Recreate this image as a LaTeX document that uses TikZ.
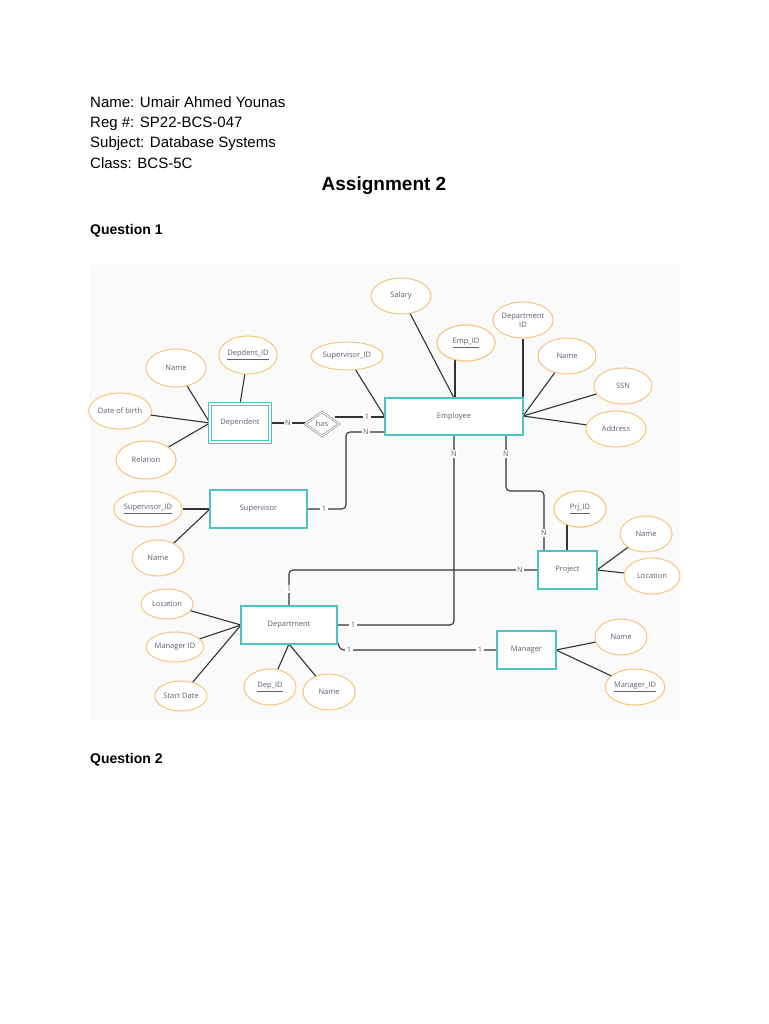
\documentclass[tikz,border=0pt]{standalone}
\usepackage{fontspec}
\setmainfont{Liberation Sans}
\newfontfamily\dfont{Open Sans}
\usetikzlibrary{shapes.geometric}
\definecolor{ent}{HTML}{4EC3C3}
\definecolor{att}{HTML}{F5C67A}
\definecolor{txt}{HTML}{5A6270}
\definecolor{ln}{HTML}{333333}
\tikzset{
 entity/.style={draw=ent,line width=1.3pt,fill=white,font=\dfont\fontsize{7.5}{9}\selectfont,text=txt,inner sep=0pt},
 attr/.style={draw=att,ellipse,line width=1pt,fill=white,font=\dfont\fontsize{7.5}{9}\selectfont,text=txt,inner sep=0pt,align=center},
 conn/.style={draw=ln,line width=1.1pt},
 card/.style={fill=white,font=\dfont\fontsize{7.5}{9}\selectfont,text=txt,inner sep=1.5pt},
 hdr/.style={anchor=base west,font=\fontsize{15}{18}\selectfont,text=black,inner sep=0pt},
}
\begin{document}
\begin{tikzpicture}[x=1pt,y=-1pt]
\useasboundingbox[fill=white] (0,0) rectangle (768,1024);
\fill[black!2] (90,265) rectangle (680,720);
\node[hdr] (l1) at (90,108) {Name: Umair Ahmed Younas};
\node[hdr] (l2) at (90,128) {Reg \#: SP22-BCS-047};
\node[hdr] (l3) at (90,148) {Subject: Database Systems};
\node[hdr] (l4) at (90,169) {Class: BCS-5C};
\node[font=\bfseries\fontsize{19}{22}\selectfont] (t) at (384,186) {Assignment 2};
\node[hdr,font=\bfseries\fontsize{14}{16}\selectfont] (q1) at (90,235) {Question 1};
\node[hdr,font=\bfseries\fontsize{14}{16}\selectfont] (q2) at (90,763) {Question 2};

\coordinate (empL) at (385,417);
\coordinate (empT) at (454,398);
\coordinate (empR) at (523,416);
\coordinate (depL) at (210,423);
\coordinate (supL) at (210,509);
\coordinate (prjR) at (597,570);
\coordinate (dptL) at (241,625);
\coordinate (dptB) at (289,644);
\coordinate (mgrR) at (556,650);
\coordinate (eidT) at (455,358);
\coordinate (eidB) at (455,398);
\coordinate (pidT) at (567,523);
\coordinate (pidB) at (567,551);
\coordinate (ddB) at (240,404);

\node[attr,minimum width=60,minimum height=36] (sal) at (401,296) {Salary};
\node[attr,minimum width=58,minimum height=36] (did) at (523,320) {Department\\ID};
\node[attr,minimum width=58,minimum height=36] (eid) at (466,343) {\underline{Emp\_ID}};
\node[attr,minimum width=72,minimum height=28] (sid) at (347,356) {Supervisor\_ID};
\node[attr,minimum width=58,minimum height=36] (en) at (567,356) {Name};
\node[attr,minimum width=58,minimum height=36] (ssn) at (623,386) {SSN};
\node[attr,minimum width=60,minimum height=36] (adr) at (616,429) {Address};
\node[attr,minimum width=60,minimum height=38] (dn) at (176,368) {Name};
\node[attr,minimum width=58,minimum height=38] (ddid) at (248,355) {\underline{Depdent\_ID}};
\node[attr,minimum width=60,minimum height=36] (dob) at (120,411) {Date of birth};
\node[attr,minimum width=60,minimum height=38] (rel) at (146,460) {Relation};
\node[attr,minimum width=60,minimum height=36] (ssid) at (148,509) {\underline{Supervisor\_ID}};
\node[attr,minimum width=52,minimum height=36] (sn) at (158,558) {Name};
\node[attr,minimum width=52,minimum height=36] (pid) at (580,509) {\underline{Prj\_ID}};
\node[attr,minimum width=52,minimum height=36] (pn) at (646,534) {Name};
\node[attr,minimum width=56,minimum height=36] (pl) at (652,576) {Location};
\node[attr,minimum width=52,minimum height=30] (dl) at (167,604) {Location};
\node[attr,minimum width=54,minimum height=30] (dmid) at (175,647) {Manager ID};
\node[attr,minimum width=52,minimum height=30] (dsd) at (181,696) {Start Date};
\node[attr,minimum width=52,minimum height=36] (dpid) at (270,687) {\underline{Dep\_ID}};
\node[attr,minimum width=52,minimum height=36] (dpn) at (329,692) {Name};
\node[attr,minimum width=52,minimum height=36] (mn) at (621,637) {Name};
\node[attr,minimum width=52,minimum height=36] (mid) at (635,687) {\underline{Manager\_ID}};

\begin{scope}[on background layer/.style={}]
\end{scope}
\draw[conn] (sal) -- (empT);
\draw[conn] (eidT) -- (eidB);
\draw[conn] (did) -- (empR);
\draw[conn] (sid) -- (empL);
\draw[conn] (en) -- (empR);
\draw[conn] (ssn) -- (empR);
\draw[conn] (adr) -- (empR);
\draw[conn] (dn) -- (depL);
\draw[conn] (ddid) -- (ddB);
\draw[conn] (dob) -- (depL);
\draw[conn] (rel) -- (depL);
\draw[conn] (ssid) -- (supL);
\draw[conn] (sn) -- (supL);
\draw[conn] (pidT) -- (pidB);
\draw[conn] (pn) -- (prjR);
\draw[conn] (pl) -- (prjR);
\draw[conn] (dl) -- (dptL);
\draw[conn] (dmid) -- (dptL);
\draw[conn] (dsd) -- (dptL);
\draw[conn] (dpid) -- (dptB);
\draw[conn] (dpn) -- (dptB);
\draw[conn] (mn) -- (mgrR);
\draw[conn] (mid) -- (mgrR);
% redraw attribute ellipses that lines were drawn into
\node[attr,minimum width=58,minimum height=36] at (466,343) {\underline{Emp\_ID}};
\node[attr,minimum width=52,minimum height=36] at (580,509) {\underline{Prj\_ID}};

\draw[conn] (270,423) -- (306,423);
\draw[conn] (335,417) -- (385,417);
\draw[conn,rounded corners=4] (307,509) -- (346,509) -- (346,432) -- (385,432);
\draw[conn,rounded corners=4] (454,435) -- (454,625) -- (337,625);
\draw[conn,rounded corners=4] (506,435) -- (506,491) -- (544,491) -- (544,551);
\draw[conn,rounded corners=4] (538,570) -- (289,570) -- (289,606);
\draw[conn,rounded corners=4] (337,640) -- (340,650) -- (497,650);

\node[entity,minimum width=138,minimum height=37] (emp) at (454,416.5) {Employee};
\node[entity,minimum width=60,minimum height=38,double,double distance=1.5pt] (dep) at (240,423) {Dependent};
\node[draw=gray!70!black,diamond,double,double distance=1.2pt,aspect=1.5,minimum width=34,minimum height=24,inner sep=0pt,fill=white,font=\dfont\fontsize{7.5}{9}\selectfont,text=txt] (has) at (322,424) {has};
\node[entity,minimum width=97,minimum height=38] (sup) at (258.5,509) {Supervisor};
\node[entity,minimum width=59,minimum height=38] (prj) at (567.5,570) {Project};
\node[entity,minimum width=96,minimum height=38] (dpt) at (289,625) {Department};
\node[entity,minimum width=59,minimum height=38] (mgr) at (526.5,650) {Manager};

\node[card] (c1) at (288,423) {N};
\node[card] (c2) at (367,417) {1};
\node[card] (c3) at (366,432) {N};
\node[card] (c4) at (324,509) {1};
\node[card] (c5) at (454,454) {N};
\node[card] (c6) at (353,625) {1};
\node[card] (c7) at (506,454) {N};
\node[card] (c8) at (544,533) {N};
\node[card] (c9) at (520,570) {N};
\node[card] (c10) at (289,589) {1};
\node[card] (c11) at (349,650) {1};
\node[card] (c12) at (480,650) {1};
\end{tikzpicture}
\end{document}
